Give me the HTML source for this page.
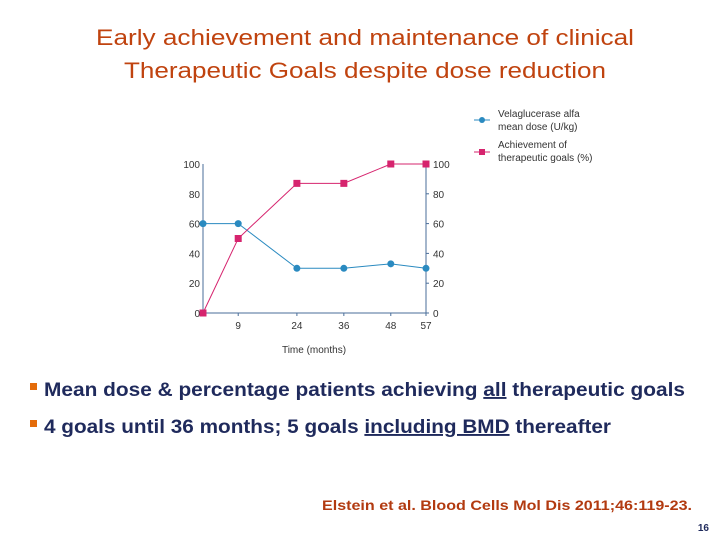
<!DOCTYPE html>
<html><head><meta charset="utf-8"><style>
html,body{margin:0;padding:0;background:#fff;}
svg{display:block;font-family:"Liberation Sans",sans-serif;}
</style></head><body>
<svg width="720" height="540" viewBox="0 0 720 540">
<text x="365" y="45" text-anchor="middle" font-size="22" fill="#c0430f" textLength="538" lengthAdjust="spacingAndGlyphs">Early achievement and maintenance of clinical</text>
<text x="365" y="78" text-anchor="middle" font-size="22" fill="#c0430f" textLength="482" lengthAdjust="spacingAndGlyphs">Therapeutic Goals despite dose reduction</text>
<g id="chart"></g>
<rect x="30" y="383" width="7" height="7" fill="#e46c0a"/>
<text x="44" y="396" font-size="19" font-weight="bold" fill="#1f2a5c" textLength="641" lengthAdjust="spacingAndGlyphs">Mean dose &amp; percentage patients achieving <tspan text-decoration="underline">all</tspan> therapeutic goals</text>
<rect x="30" y="420" width="7" height="7" fill="#e46c0a"/>
<text x="44" y="433" font-size="19" font-weight="bold" fill="#1f2a5c" textLength="567" lengthAdjust="spacingAndGlyphs">4 goals until 36 months; 5 goals <tspan text-decoration="underline">including BMD</tspan> thereafter</text>
<text x="322" y="510" font-size="14" font-weight="bold" fill="#b23a10" textLength="370" lengthAdjust="spacingAndGlyphs">Elstein et al. Blood Cells Mol Dis 2011;46:119-23.</text>
<text x="709" y="531" font-size="10" font-weight="bold" fill="#1f2a5c" text-anchor="end">16</text>
</svg>
<script>
const months=[0,9,24,36,48,57];
const doseValues=[60,60,30,30,33,30];
const goalValues=[0,50,87,87,100,100];
const yTicks=[0,20,40,60,80,100];
const xTickLabels=["9","24","36","48","57"];
const xTickMonths=[9,24,36,48,57];
const NS="http://www.w3.org/2000/svg";
const g=document.getElementById('chart');
const X0=203,X1=426,Y0=313,Y1=164;
const xs=m=>X0+(X1-X0)*m/57;
const ys=v=>Y0+(Y1-Y0)*v/100;
function el(t,a,p){const e=document.createElementNS(NS,t);for(const k in a)e.setAttribute(k,a[k]);(p||g).appendChild(e);return e;}
const ax='#4a6e9a';
let e=el('line',{x1:X0,y1:Y0,x2:X0,y2:Y1,stroke:ax,'stroke-width':1});


e=el('line',{x1:X1,y1:Y0,x2:X1,y2:Y1,stroke:ax,'stroke-width':1});


e=el('line',{x1:X0,y1:Y0,x2:X1,y2:Y0,stroke:ax,'stroke-width':1});


yTicks.forEach(v=>{
 let t=el('text',{x:X0-3,y:ys(v)+4,'font-size':10,fill:'#333','text-anchor':'end'});t.textContent=v;
 
 
 el('line',{x1:X1,y1:ys(v),x2:X1+3,y2:ys(v),stroke:ax});
 t=el('text',{x:X1+7,y:ys(v)+4,'font-size':10,fill:'#333'});t.textContent=v;
 
 
});
xTickMonths.forEach((m,i)=>{
 el('line',{x1:xs(m),y1:Y0,x2:xs(m),y2:Y0+3,stroke:ax});
 const t=el('text',{x:xs(m),y:Y0+16,'font-size':10,fill:'#333','text-anchor':'middle'});t.textContent=xTickLabels[i];
 
 
});
let t=el('text',{x:314,y:353,'font-size':10,fill:'#333','text-anchor':'middle'});t.textContent='Time (months)';


e=el('polyline',{points:months.map((m,i)=>xs(m)+','+ys(doseValues[i])).join(' '),fill:'none',stroke:'#2a8ac0','stroke-width':1});


e=el('polyline',{points:months.map((m,i)=>xs(m)+','+ys(goalValues[i])).join(' '),fill:'none',stroke:'#d6246e','stroke-width':1});


months.forEach((m,i)=>{
 const c=el('circle',{cx:xs(m),cy:ys(doseValues[i]),r:3.5,fill:'#2a8ac0'});
 
 
 const r=el('rect',{x:xs(m)-3.5,y:ys(goalValues[i])-3.5,width:7,height:7,fill:'#d6246e'});
 
 
});
// legend
e=el('line',{x1:474,y1:120,x2:490,y2:120,stroke:'#2a8ac0'});
el('circle',{cx:482,cy:120,r:3,fill:'#2a8ac0'});


[['Velaglucerase alfa',117],['mean dose (U/kg)',130]].forEach(a=>{const q=el('text',{x:498,y:a[1],'font-size':10,fill:'#333'});q.textContent=a[0];
 
 });
e=el('line',{x1:474,y1:152,x2:490,y2:152,stroke:'#d6246e'});
el('rect',{x:479,y:149,width:6,height:6,fill:'#d6246e'});


[['Achievement of',148],['therapeutic goals (%)',161]].forEach(a=>{const q=el('text',{x:498,y:a[1],'font-size':10,fill:'#333'});q.textContent=a[0];
 
 });
</script>
</body></html>
